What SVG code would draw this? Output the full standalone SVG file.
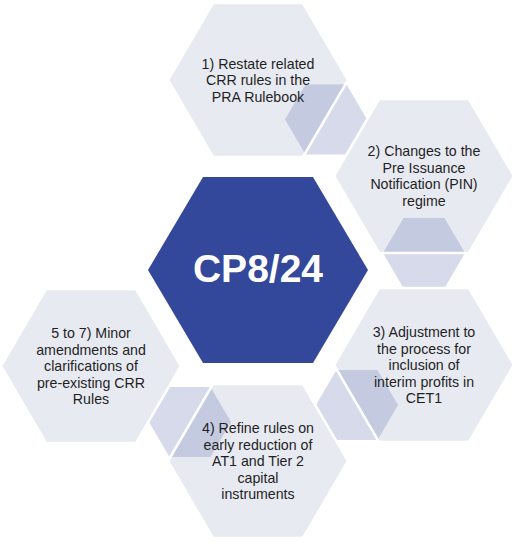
<svg xmlns="http://www.w3.org/2000/svg" width="515" height="548" viewBox="0 0 515 548">
  <style>
    .hex { fill: rgb(91,105,162); fill-opacity: 0.14; stroke: #ffffff; stroke-width: 2.5; stroke-linejoin: miter; }
    .core { fill: #33489A; }
    .link { fill: #D6DAEA; }
    .lbl { font-family: "Liberation Sans", Arial, sans-serif; font-size: 14.2px; fill: #1f1f1f; text-anchor: middle; }
    .title { font-family: "Liberation Sans", Arial, sans-serif; font-size: 39px; font-weight: bold; fill: #ffffff; text-anchor: middle; }
  </style>
  <rect width="515" height="548" fill="#ffffff"/>

  <g id="connectors">
    <polygon class="link" points="285,119.5 305.5,84.5 346.5,84.5 367,119.5 346.5,154.5 305.5,154.5"/>
    <polygon class="link" points="383,253 403.5,218 444.5,218 465,253 444.5,288 403.5,288"/>
    <polygon class="link" points="316,405 336.5,370 377.5,370 398,405 377.5,440 336.5,440"/>
    <polygon class="link" points="149,422 169.5,387 210.5,387 231,422 210.5,457 169.5,457"/>
  </g>

  <g id="node-center">
    <polygon class="core" points="148,270 203,177 313,177 368,270 313,363 203,363"/>
    <text class="title" x="258" y="282">CP8/24</text>
  </g>

  <g id="node-1">
    <polygon class="hex" points="168,80 213,3 303,3 348,80 303,157 213,157"/>
    <text class="lbl" x="258" y="68.5">1) Restate related</text>
    <text class="lbl" x="258" y="85">CRR rules in the</text>
    <text class="lbl" x="258" y="101.5">PRA Rulebook</text>
  </g>

  <g id="node-2">
    <polygon class="hex" points="334,176 379,99 469,99 514,176 469,253 379,253"/>
    <text class="lbl" x="424" y="156.25">2) Changes to the</text>
    <text class="lbl" x="424" y="172.75">Pre Issuance</text>
    <text class="lbl" x="424" y="189.25">Notification (PIN)</text>
    <text class="lbl" x="424" y="205.75">regime</text>
  </g>

  <g id="node-3">
    <polygon class="hex" points="334,365 379,288 469,288 514,365 469,442 379,442"/>
    <text class="lbl" x="424" y="337">3) Adjustment to</text>
    <text class="lbl" x="424" y="353.5">the process for</text>
    <text class="lbl" x="424" y="370">inclusion of</text>
    <text class="lbl" x="424" y="386.5">interim profits in</text>
    <text class="lbl" x="424" y="403">CET1</text>
  </g>

  <g id="node-4">
    <polygon class="hex" points="168,461 213,384 303,384 348,461 303,538 213,538"/>
    <text class="lbl" x="258" y="433">4) Refine rules on</text>
    <text class="lbl" x="258" y="449.5">early reduction of</text>
    <text class="lbl" x="258" y="466">AT1 and Tier 2</text>
    <text class="lbl" x="258" y="482.5">capital</text>
    <text class="lbl" x="258" y="499">instruments</text>
  </g>

  <g id="node-5">
    <polygon class="hex" points="1,366 46,289 136,289 181,366 136,443 46,443"/>
    <text class="lbl" x="91" y="338">5 to 7) Minor</text>
    <text class="lbl" x="91" y="354.5">amendments and</text>
    <text class="lbl" x="91" y="371">clarifications of</text>
    <text class="lbl" x="91" y="387.5">pre-existing CRR</text>
    <text class="lbl" x="91" y="404">Rules</text>
  </g>
</svg>
